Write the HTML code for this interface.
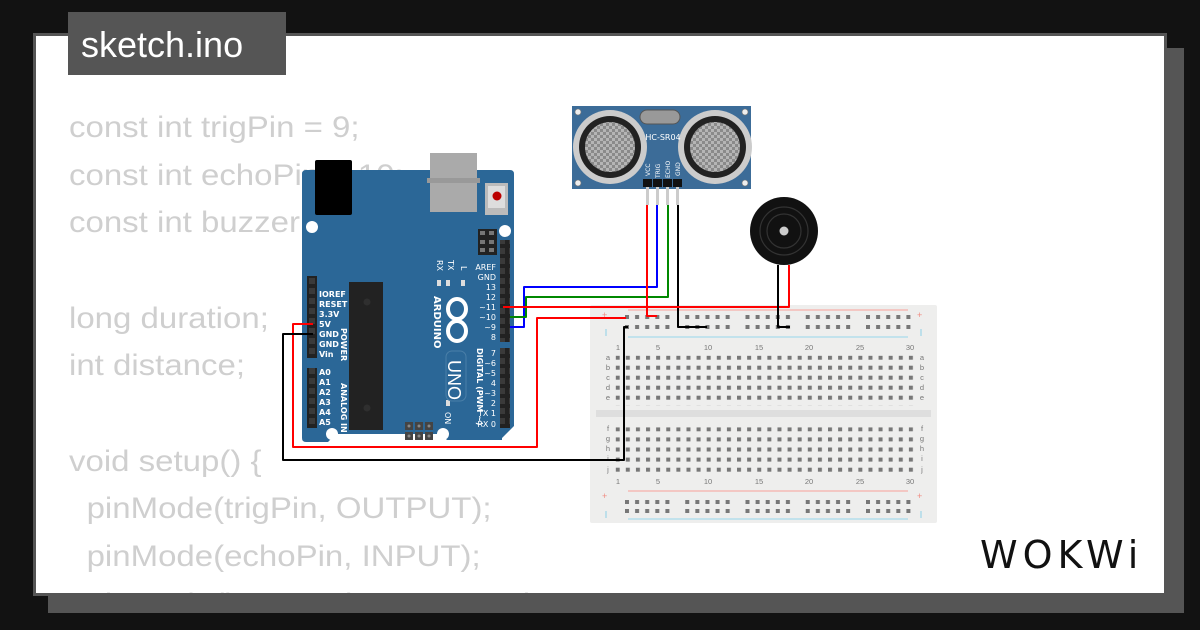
<!DOCTYPE html>
<html><head><meta charset="utf-8"><style>
html,body{margin:0;padding:0;background:#121212;}
svg{display:block}
</style></head><body>
<svg width="1200" height="630" viewBox="0 0 1200 630" xmlns="http://www.w3.org/2000/svg">
<defs>
<clipPath id="card"><rect x="36" y="36" width="1128" height="557"/></clipPath>
<pattern id="mesh" width="6" height="6" patternUnits="userSpaceOnUse"><rect width="6" height="6" fill="#8a8a8a"/><rect width="3" height="3" fill="#b5b5b5"/><rect x="3" y="3" width="3" height="3" fill="#b5b5b5"/></pattern>
<pattern id="grid" x="615.7" y="355.7" width="10.11" height="10" patternUnits="userSpaceOnUse"><rect width="4" height="4" fill="#777"/></pattern>
<pattern id="grid2" x="615.7" y="427.3" width="10.11" height="10.1" patternUnits="userSpaceOnUse"><rect width="4" height="4" fill="#777"/></pattern>
<pattern id="rail" x="625" y="315" width="60.25" height="10" patternUnits="userSpaceOnUse"><rect x="0" width="4" height="4" fill="#777"/><rect x="10.1" width="4" height="4" fill="#777"/><rect x="20.2" width="4" height="4" fill="#777"/><rect x="30.3" width="4" height="4" fill="#777"/><rect x="40.4" width="4" height="4" fill="#777"/></pattern>
<pattern id="rail2" x="625" y="500" width="60.25" height="9" patternUnits="userSpaceOnUse"><rect x="0" width="4" height="4" fill="#777"/><rect x="10.1" width="4" height="4" fill="#777"/><rect x="20.2" width="4" height="4" fill="#777"/><rect x="30.3" width="4" height="4" fill="#777"/><rect x="40.4" width="4" height="4" fill="#777"/></pattern>
<pattern id="hdr" x="307" y="276" width="10" height="10" patternUnits="userSpaceOnUse"><rect width="10" height="10" fill="#222"/><rect x="2" y="2" width="6" height="6" fill="#3a3a3a"/></pattern>
</defs>
<rect width="1200" height="630" fill="#121212"/>
<rect x="48" y="48" width="1136" height="565" fill="#555"/>
<rect x="33" y="33" width="1134" height="563" fill="#555"/>
<rect x="36" y="36" width="1128" height="557" fill="#fff"/>
<g clip-path="url(#card)">
<g transform="translate(69,0) scale(1.1,1) translate(-69,0)" font-family="Liberation Sans, sans-serif" font-size="30" fill="#cfcfcf">
<text x="69" y="137">const int trigPin = 9;</text>
<text x="69" y="185">const int echoPin = 10;</text>
<text x="69" y="232">const int buzzerPin = 8;</text>
<text x="69" y="328">long duration;</text>
<text x="69" y="375">int distance;</text>
<text x="69" y="471">void setup() {</text>
<text x="85" y="518">pinMode(trigPin, OUTPUT);</text>
<text x="85" y="566">pinMode(echoPin, INPUT);</text>
<text x="85" y="614">pinMode(buzzerPin, OUTPUT);</text>
</g>
</g>
<rect x="68" y="12" width="218" height="63" fill="#555"/>
<text x="81" y="57" font-family="Liberation Sans, sans-serif" font-size="36" fill="#fff">sketch.ino</text>

<!-- Breadboard -->
<rect x="590" y="305" width="347" height="218" rx="2" fill="#eeeeed"/>
<rect x="596" y="410" width="335" height="7" fill="#dedede"/>
<line x1="628" y1="310" x2="908" y2="310" stroke="#f6b0aa" stroke-width="1.2"/>
<line x1="628" y1="337" x2="908" y2="337" stroke="#a8dcec" stroke-width="1.2"/>
<line x1="628" y1="491" x2="908" y2="491" stroke="#f6b0aa" stroke-width="1.2"/>
<line x1="628" y1="519" x2="908" y2="519" stroke="#a8dcec" stroke-width="1.2"/>
<g font-family="Liberation Sans, sans-serif" font-size="9" fill="#f08a80"><text x="602" y="318">+</text><text x="917" y="318">+</text><text x="602" y="499">+</text><text x="917" y="499">+</text></g>
<g stroke="#8fd0e8" stroke-width="1"><line x1="606" y1="329" x2="606" y2="336"/><line x1="921" y1="329" x2="921" y2="336"/><line x1="606" y1="511" x2="606" y2="518"/><line x1="921" y1="511" x2="921" y2="518"/></g>
<rect x="615.7" y="355.7" width="298" height="50" fill="url(#grid)"/>
<rect x="615.7" y="427.3" width="298" height="50" fill="url(#grid2)"/>
<rect x="625" y="315" width="292" height="16" fill="url(#rail)"/>
<rect x="625" y="500" width="292" height="14" fill="url(#rail2)"/>
<g font-family="Liberation Sans, sans-serif" font-size="7.5" fill="#777" text-anchor="middle">
<text x="618" y="350">1</text><text x="658" y="350">5</text><text x="708" y="350">10</text><text x="759" y="350">15</text><text x="809" y="350">20</text><text x="860" y="350">25</text><text x="910" y="350">30</text>
<text x="618" y="484">1</text><text x="658" y="484">5</text><text x="708" y="484">10</text><text x="759" y="484">15</text><text x="809" y="484">20</text><text x="860" y="484">25</text><text x="910" y="484">30</text>
<text x="608" y="360">a</text><text x="608" y="370">b</text><text x="608" y="380">c</text><text x="608" y="390">d</text><text x="608" y="400">e</text>
<text x="608" y="431">f</text><text x="608" y="441">g</text><text x="608" y="451">h</text><text x="608" y="461">i</text><text x="608" y="472">j</text>
<text x="922" y="360">a</text><text x="922" y="370">b</text><text x="922" y="380">c</text><text x="922" y="390">d</text><text x="922" y="400">e</text>
<text x="922" y="431">f</text><text x="922" y="441">g</text><text x="922" y="451">h</text><text x="922" y="461">i</text><text x="922" y="472">j</text>
</g>

<!-- Arduino -->
<path d="M302,174 q0,-4 4,-4 h204 q4,0 4,4 v252 l-12,12 v2 h-55 l-6,-6 h-105 l-8,8 h-22 q-4,0 -4,-4 z" fill="#2b6797"/>
<rect x="315" y="160" width="37" height="55" rx="2" fill="#000"/>
<rect x="430" y="153" width="47" height="59" fill="#aaa"/>
<rect x="427" y="178" width="53" height="5" fill="#999"/>
<rect x="485" y="183" width="23" height="32" fill="#bbb"/>
<rect x="488" y="186" width="17" height="22" fill="#ddd"/>
<circle cx="497" cy="196" r="4.5" fill="#b00"/>
<g fill="#fff"><circle cx="312" cy="227" r="6"/><circle cx="505" cy="231" r="6"/><circle cx="332" cy="434" r="6"/><circle cx="443" cy="434" r="6"/></g>
<g fill="url(#hdr)"><rect x="307" y="276" width="10" height="82"/><rect x="307" y="368" width="10" height="60"/><rect x="500" y="240" width="10" height="102"/><rect x="500" y="348" width="10" height="80"/></g>
<g fill="#222"><rect x="349" y="282" width="34" height="148"/><rect x="478" y="229" width="19" height="26"/></g>
<g fill="#444"><rect x="405" y="422" width="8" height="8"/><rect x="415" y="422" width="8" height="8"/><rect x="425" y="422" width="8" height="8"/><rect x="405" y="432" width="8" height="8"/><rect x="415" y="432" width="8" height="8"/><rect x="425" y="432" width="8" height="8"/></g>
<g fill="#888"><circle cx="409" cy="426" r="1.5"/><circle cx="419" cy="426" r="1.5"/><circle cx="429" cy="426" r="1.5"/><circle cx="409" cy="436" r="1.5"/><circle cx="419" cy="436" r="1.5"/><circle cx="429" cy="436" r="1.5"/></g>
<g fill="#777"><rect x="480" y="231" width="5" height="4"/><rect x="489" y="231" width="5" height="4"/><rect x="480" y="240" width="5" height="4"/><rect x="489" y="240" width="5" height="4"/><rect x="480" y="248" width="5" height="4"/><rect x="489" y="248" width="5" height="4"/></g>
<g fill="#2f2f2f"><circle cx="367" cy="302" r="3.5"/><circle cx="367" cy="408" r="3.5"/></g>
<g font-family="DejaVu Sans, sans-serif" font-size="8" font-weight="bold" fill="#fff">
<text x="319" y="297">IOREF</text><text x="319" y="307">RESET</text><text x="319" y="317">3.3V</text><text x="319" y="327">5V</text><text x="319" y="337">GND</text><text x="319" y="347">GND</text><text x="319" y="357">Vin</text>
<text x="319" y="375">A0</text><text x="319" y="385">A1</text><text x="319" y="395">A2</text><text x="319" y="405">A3</text><text x="319" y="415">A4</text><text x="319" y="425">A5</text>
</g>
<g font-family="DejaVu Sans, sans-serif" font-size="8" fill="#fff" text-anchor="end">
<text x="496" y="270">AREF</text><text x="496" y="280">GND</text><text x="496" y="290">13</text><text x="496" y="300">12</text><text x="496" y="310">~11</text><text x="496" y="320">~10</text><text x="496" y="330">~9</text><text x="496" y="340">8</text>
<text x="496" y="356">7</text><text x="496" y="366">~6</text><text x="496" y="376">~5</text><text x="496" y="386">4</text><text x="496" y="396">~3</text><text x="496" y="406">2</text><text x="496" y="416">TX 1</text><text x="496" y="427">RX 0</text>
</g>
<g font-family="DejaVu Sans, sans-serif" font-size="8" font-weight="bold" fill="#fff">
<text transform="translate(341,328) rotate(90)">POWER</text>
<text transform="translate(341,383) rotate(90)">ANALOG IN</text>
<text transform="translate(477,348) rotate(90)">DIGITAL (PWM ~)</text>
<text transform="translate(434,296) rotate(90)" font-size="10">ARDUINO</text>
<text transform="translate(437,260) rotate(90)" font-weight="normal">RX</text>
<text transform="translate(448,260) rotate(90)" font-weight="normal">TX</text>
<text transform="translate(461,266) rotate(90)" font-weight="normal">L</text>
<text transform="translate(445,412) rotate(90)" font-weight="normal">ON</text>
</g>
<g fill="#ddd"><rect x="437" y="280" width="4" height="6"/><rect x="446" y="280" width="4" height="6"/><rect x="461" y="280" width="4" height="6"/><rect x="446" y="400" width="4" height="6"/></g>
<g fill="none" stroke="#fff" stroke-width="4"><ellipse cx="457" cy="309" rx="9" ry="10"/><ellipse cx="457" cy="331" rx="9" ry="10"/></g>
<rect x="446" y="351" width="20" height="50" rx="6" fill="none" stroke="#4a7fa8" stroke-width="1"/>
<text transform="translate(448,360) rotate(90)" font-family="Liberation Sans, sans-serif" font-size="18" fill="#fff">UNO</text>

<!-- Sensor -->
<rect x="572" y="106" width="179" height="83" fill="#3c6c98"/>
<g fill="#eee" stroke="#777" stroke-width="0.6"><circle cx="578" cy="112" r="3"/><circle cx="745" cy="112" r="3"/><circle cx="578" cy="183" r="3"/><circle cx="745" cy="183" r="3"/></g>
<g><circle cx="610" cy="147" r="37" fill="#ccc"/><circle cx="610" cy="147" r="31" fill="#222"/><circle cx="610" cy="147" r="25" fill="url(#mesh)"/>
<circle cx="715" cy="147" r="37" fill="#ccc"/><circle cx="715" cy="147" r="31" fill="#222"/><circle cx="715" cy="147" r="25" fill="url(#mesh)"/></g>
<rect x="640" y="110" width="40" height="14" rx="7" fill="#999" stroke="#555"/>
<text x="663" y="140" font-family="DejaVu Sans, sans-serif" font-size="8" fill="#fff" text-anchor="middle">HC-SR04</text>
<g font-family="DejaVu Sans, sans-serif" font-size="6" fill="#fff"><text transform="translate(650,176) rotate(-90)">VCC</text><text transform="translate(660,178) rotate(-90)">TRIG</text><text transform="translate(670,178) rotate(-90)">ECHO</text><text transform="translate(680,176) rotate(-90)">GND</text></g>
<g fill="#111"><rect x="643" y="179" width="9" height="8"/><rect x="653" y="179" width="9" height="8"/><rect x="663" y="179" width="9" height="8"/><rect x="673" y="179" width="9" height="8"/></g>
<g fill="#ccc"><rect x="646" y="187" width="3" height="18"/><rect x="656" y="187" width="3" height="18"/><rect x="666" y="187" width="3" height="18"/><rect x="676" y="187" width="3" height="18"/></g>

<!-- Buzzer -->
<circle cx="784" cy="231" r="34" fill="#111"/>
<circle cx="784" cy="231" r="24" fill="none" stroke="#333" stroke-width="1.2"/>
<circle cx="784" cy="231" r="17" fill="none" stroke="#333" stroke-width="1.2"/>
<circle cx="784" cy="231" r="4.5" fill="#ccc"/>

<!-- Wires -->
<g fill="none" stroke-width="2" stroke-linejoin="round">
<path d="M510,327 H524 V287 H657 V205" stroke="#00f"/>
<path d="M510,317 H526 V297 H668 V205" stroke="#080"/>
<path d="M647,205 V316 H657" stroke="#f00"/>
<path d="M678,205 V327 H707" stroke="#000"/>
<path d="M503,307 H789 V265" stroke="#f00"/>
<path d="M778,265 V327 H790" stroke="#000"/>
<path d="M313,324 H293 V447 H537 V318 H626" stroke="#f00"/>
<path d="M313,334 H283 V460 H624 V327 H628" stroke="#000"/>
</g>

<!-- Wokwi logo -->
<text x="980" y="568" font-family="DejaVu Sans, sans-serif" font-size="38" fill="#111" letter-spacing="5">WOKWi</text>
</svg>
</body></html>
